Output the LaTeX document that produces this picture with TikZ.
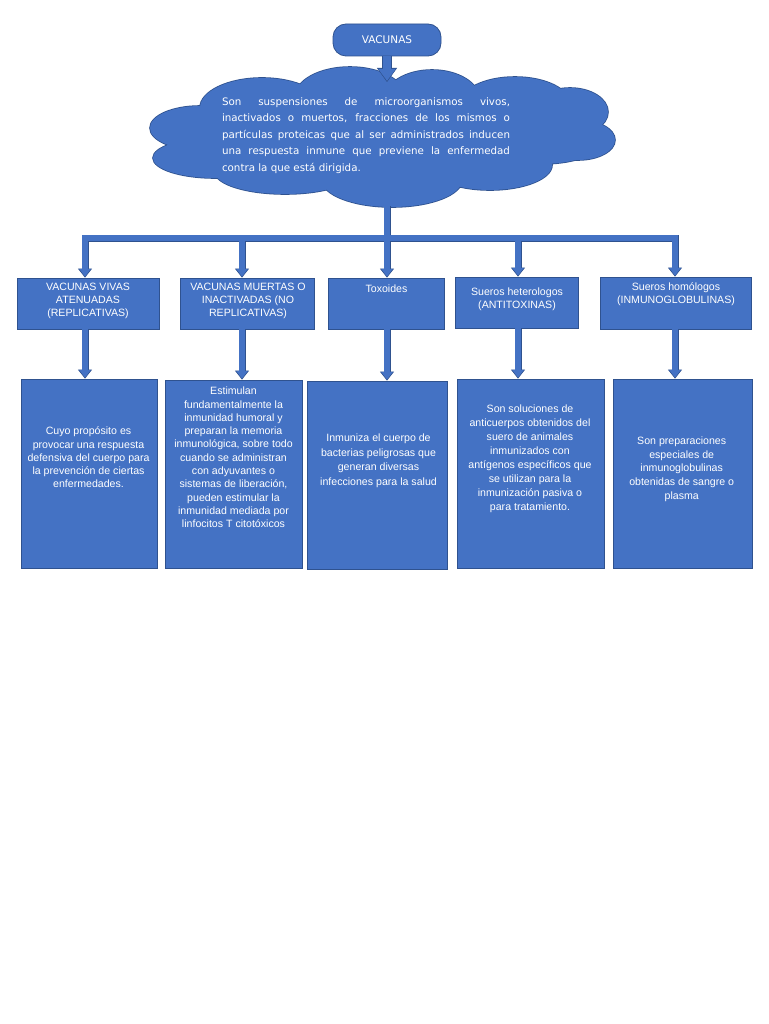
\documentclass[tikz,border=0pt]{standalone}
\usepackage{fontspec}
\setmainfont{Liberation Sans}
\newfontfamily\comicfont{DejaVu Sans}
\usetikzlibrary{arrows.meta}
\definecolor{bl}{HTML}{4472C4}
\definecolor{dk}{HTML}{2F528F}
\begin{document}
\begin{tikzpicture}[x=1pt,y=-1pt,
  box/.style={draw=dk, fill=bl, line width=0.8pt, inner sep=0pt},
  l2/.style={text=white, align=center, inner sep=0pt, font=\fontsize{10.6}{13.2}\selectfont},
  l3/.style={text=white, align=center, inner sep=0pt, font=\fontsize{10.6}{13.3}\selectfont},
  outer/.style={draw=dk, line width=7pt},
  inner/.style={draw=bl, line width=5.4pt},
  otip/.style={arrows={-{Triangle[width=14pt,length=9pt,line width=0.8pt]}}},
  itip/.style={arrows={-{Triangle[width=11.8pt,length=7.6pt,line width=0pt]}}, shorten >=1.1pt},
  otiptwo/.style={arrows={{Triangle[width=14pt,length=9pt,line width=0.8pt]}-{Triangle[width=14pt,length=9pt,line width=0.8pt]}}},
  itiptwo/.style={arrows={{Triangle[width=11.8pt,length=7.6pt,line width=0pt]}-{Triangle[width=11.8pt,length=7.6pt,line width=0pt]}}, shorten >=1.1pt, shorten <=1.1pt},
  bigouter/.style={draw=dk, line width=10pt, arrows={-{Triangle[width=20pt,length=14pt,line width=0.8pt]}}},
  biginner/.style={draw=bl, line width=8.4pt, arrows={-{Triangle[width=17.6pt,length=12pt,line width=0pt]}}, shorten >=1.2pt}
]
\useasboundingbox[fill=white] (0,0) rectangle (768,1024);

% cloud
\foreach \cx/\cy/\rx/\ry in {200/128/50/22, 262/108/62/30, 350/97/55/30, 432/100/48/30,
  515/104/55/27, 570/112/38/24, 578/140/37/20, 540/147/55/17, 490/165/62/25, 392/180/70/27,
  215/158/62/20, 285/172/70/22, 385/135/170/45}
  \draw[dk, line width=1.6pt] (\cx,\cy) ellipse [x radius=\rx, y radius=\ry];
\foreach \cx/\cy/\rx/\ry in {200/128/50/22, 262/108/62/30, 350/97/55/30, 432/100/48/30,
  515/104/55/27, 570/112/38/24, 578/140/37/20, 540/147/55/17, 490/165/62/25, 392/180/70/27,
  215/158/62/20, 285/172/70/22, 385/135/170/45}
  \fill[bl] (\cx,\cy) ellipse [x radius=\rx, y radius=\ry];
\node[inner sep=0pt, minimum width=465pt, minimum height=140pt] (cloud) at (383,137) {};
\node[text=white, inner sep=0pt, align=left, font=\comicfont\fontsize{10.3}{16.4}\selectfont] (ctext) at (366,135.5)
  {\makebox[288pt][s]{Son suspensiones de microorganismos vivos,}\\
   \makebox[288pt][s]{inactivados o muertos, fracciones de los mismos o}\\
   \makebox[288pt][s]{partículas proteicas que al ser administrados inducen}\\
   \makebox[288pt][s]{una respuesta inmune que previene la enfermedad}\\
   contra la que está dirigida.};

% top node
\node[box, rounded corners=13pt, minimum width=108pt, minimum height=32pt, text=white,
  font=\comicfont\fontsize{10.5}{12}\selectfont] (vac) at (387,40) {VACUNAS};

% level 2 boxes
\node[box, minimum width=142pt, minimum height=51pt] (b1) at (88,303.5) {};
\node[box, minimum width=134pt, minimum height=51pt] (b2) at (247,303.5) {};
\node[box, minimum width=116pt, minimum height=51pt] (b3) at (386,303.5) {};
\node[box, minimum width=123pt, minimum height=51pt] (b4) at (516.5,302.5) {};
\node[box, minimum width=151pt, minimum height=52pt] (b5) at (675.5,303) {};

\node[l2] (t1) at (88,301) {VACUNAS VIVAS\\ATENUADAS\\(REPLICATIVAS)};
\node[l2] (t2) at (248,301) {VACUNAS MUERTAS O\\INACTIVADAS (NO\\REPLICATIVAS)};
\node[l2] (t3) at (386.5,289) {Toxoides};
\node[l2] (t4) at (517,299) {Sueros heterologos\\(ANTITOXINAS)};
\node[l2] (t5) at (676,294.5) {Sueros homólogos\\(INMUNOGLOBULINAS)};

% level 3 boxes
\node[box, minimum width=136pt, minimum height=189pt] (c1) at (89,473.5) {};
\node[box, minimum width=137pt, minimum height=188pt] (c2) at (233.5,474) {};
\node[box, minimum width=140pt, minimum height=188pt] (c3) at (377,475) {};
\node[box, minimum width=147pt, minimum height=189pt] (c4) at (530.5,473.5) {};
\node[box, minimum width=139pt, minimum height=189pt] (c5) at (682.5,473.5) {};

\node[l3] (s1) at (88.5,457.5) {Cuyo propósito es\\provocar una respuesta\\defensiva del cuerpo para\\la prevención de ciertas\\enfermedades.};
\node[l3] (s2) at (233.5,457.5) {Estimulan\\fundamentalmente la\\inmunidad humoral y\\preparan la memoria\\inmunológica, sobre todo\\cuando se administran\\con adyuvantes o\\sistemas de liberación,\\pueden estimular la\\inmunidad mediada por\\linfocitos T citotóxicos};
\node[l3, font=\fontsize{10.6}{14.5}\selectfont] (s3) at (378.5,460.8) {Inmuniza el cuerpo de\\bacterias peligrosas que\\generan diversas\\infecciones para la salud};
\node[l3, font=\fontsize{10.6}{14}\selectfont] (s4) at (530,459.2) {Son soluciones de\\anticuerpos obtenidos del\\suero de animales\\inmunizados con\\antígenos específicos que\\se utilizan para la\\inmunización pasiva o\\para tratamiento.};
\node[l3, font=\fontsize{10.6}{13.8}\selectfont] (s5) at (681.7,469.2) {Son preparaciones\\especiales de\\inmunoglobulinas\\obtenidas de sangre o\\plasma};

% connector points
\coordinate (cloudtip) at (388,82);
\coordinate (cloudbot) at (387,206);
\coordinate (d1) at (85,238);
\coordinate (d2) at (242,238);
\coordinate (d3) at (387,238);
\coordinate (d4) at (518,238);
\coordinate (d5) at (675,238);

% big arrow
\draw[bigouter] (vac.south) -- (vac.south |- cloudtip);
\draw[biginner] (vac.south) -- (vac.south |- cloudtip);

% outer strokes
\draw[outer, otiptwo] (d1 |- b1.north) -- (d1) -- (d5) -- (d5 |- b5.north);
\draw[outer, otip] (cloudbot) -- (d3 |- b3.north);
\draw[outer, otip] (d2) -- (d2 |- b2.north);
\draw[outer, otip] (d4) -- (d4 |- b4.north);
\draw[outer, otip] (b1.south -| d1) -- (c1.north -| d1);
\draw[outer, otip] (b2.south -| d2) -- (c2.north -| d2);
\draw[outer, otip] (b3.south -| d3) -- (c3.north -| d3);
\draw[outer, otip] (b4.south -| d4) -- (c4.north -| d4);
\draw[outer, otip] (b5.south -| d5) -- (c5.north -| d5);

% inner fills
\draw[inner, itiptwo] (d1 |- b1.north) -- (d1) -- (d5) -- (d5 |- b5.north);
\draw[inner, itip] (cloudbot) -- (d3 |- b3.north);
\draw[inner, itip] (d2) -- (d2 |- b2.north);
\draw[inner, itip] (d4) -- (d4 |- b4.north);
\draw[inner, itip] (b1.south -| d1) -- (c1.north -| d1);
\draw[inner, itip] (b2.south -| d2) -- (c2.north -| d2);
\draw[inner, itip] (b3.south -| d3) -- (c3.north -| d3);
\draw[inner, itip] (b4.south -| d4) -- (c4.north -| d4);
\draw[inner, itip] (b5.south -| d5) -- (c5.north -| d5);
\end{tikzpicture}
\end{document}
